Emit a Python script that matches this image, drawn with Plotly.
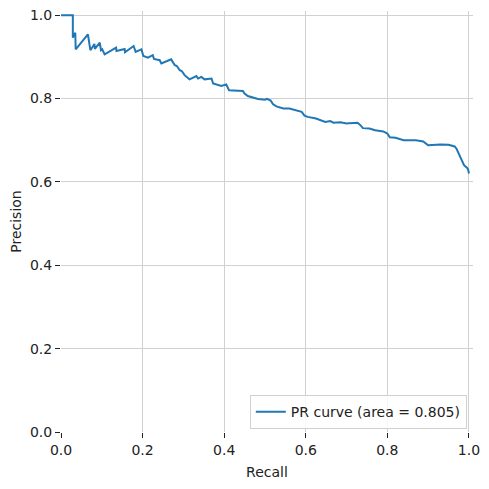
import plotly.graph_objects as go

# precision-recall points
recall = [0.0, 0.029, 0.029, 0.035, 0.036, 0.066, 0.072, 0.082, 0.083, 0.095,
          0.098, 0.101, 0.107, 0.135, 0.136, 0.156, 0.157, 0.178, 0.183, 0.197,
          0.202, 0.213, 0.225, 0.228, 0.242, 0.246, 0.270, 0.279, 0.284, 0.291,
          0.296, 0.303, 0.315, 0.332, 0.336, 0.344, 0.352, 0.369, 0.373, 0.393,
          0.405, 0.412, 0.446, 0.450, 0.458, 0.483,
          0.500, 0.505, 0.514, 0.520, 0.528, 0.545, 0.560, 0.576, 0.590, 0.597,
          0.605, 0.625, 0.639, 0.648, 0.660, 0.668, 0.685, 0.700, 0.707, 0.727,
          0.735, 0.740, 0.756, 0.770, 0.790, 0.800, 0.806, 0.820, 0.840, 0.870,
          0.888, 0.900, 0.930, 0.950, 0.965, 0.970, 0.975, 0.980, 0.983, 0.988,
          0.995, 0.998, 1.0]
precision = [1.0, 1.0, 0.946, 0.958, 0.918, 0.954, 0.916, 0.931, 0.919, 0.934,
             0.916, 0.918, 0.906, 0.922, 0.914, 0.919, 0.911, 0.926, 0.912, 0.918,
             0.902, 0.898, 0.904, 0.895, 0.892, 0.884, 0.894, 0.880, 0.878, 0.868,
             0.866, 0.856, 0.846, 0.854, 0.848, 0.852, 0.846, 0.848, 0.836, 0.830,
             0.834, 0.820, 0.818, 0.812, 0.806, 0.799,
             0.797, 0.799, 0.795, 0.786, 0.781, 0.776, 0.776, 0.772, 0.768, 0.759,
             0.756, 0.752, 0.748, 0.744, 0.746, 0.742, 0.743, 0.740, 0.741, 0.742,
             0.735, 0.729, 0.728, 0.724, 0.721, 0.716, 0.707, 0.706, 0.700, 0.700,
             0.697, 0.688, 0.690, 0.689, 0.685, 0.679, 0.668, 0.658, 0.650, 0.640,
             0.634, 0.630, 0.620]
auc_label = "PR curve (area = 0.805)"
ticks = [0.0, 0.2, 0.4, 0.6, 0.8, 1.0]
tick_text = ["0.0", "0.2", "0.4", "0.6", "0.8", "1.0"]

fig = go.Figure()
fig.add_trace(go.Scatter(x=recall, y=precision, mode="lines", name=auc_label,
                         line=dict(color="#1f77b4", width=2)))

axis_style = dict(
    range=[0, 1.01],
    tickvals=ticks,
    ticktext=tick_text,
    ticks="outside",
    ticklen=5,
    tickwidth=1,
    tickcolor="#222",
    showgrid=True,
    gridcolor="#d0d0d0",
    gridwidth=1,
    zeroline=False,
    showline=False,
    tickfont=dict(family="DejaVu Sans", size=14, color="#222"),
    ticklabeloverflow="allow",
    automargin=False,
)

# page body has an 8px margin, so the figure is a bit smaller and shifted
fig.update_layout(
    width=481, height=481,
    margin=dict(l=53, r=16, t=3, b=57),
    paper_bgcolor="white",
    plot_bgcolor="white",
    font=dict(family="DejaVu Sans", size=14, color="#222"),
    showlegend=True,
    legend=dict(x=0.985, y=0.007, xanchor="right", yanchor="bottom",
                bordercolor="#d0d0d0", borderwidth=1,
                bgcolor="rgba(255,255,255,0.8)",
                font=dict(family="DejaVu Sans", size=14, color="#222")),
    xaxis=dict(axis_style, title=dict(text="Recall", standoff=10,
                                      font=dict(size=14))),
    yaxis=dict(axis_style, title=dict(text="Precision", standoff=7,
                                      font=dict(size=14))),
)

fig.write_html("out.html")
